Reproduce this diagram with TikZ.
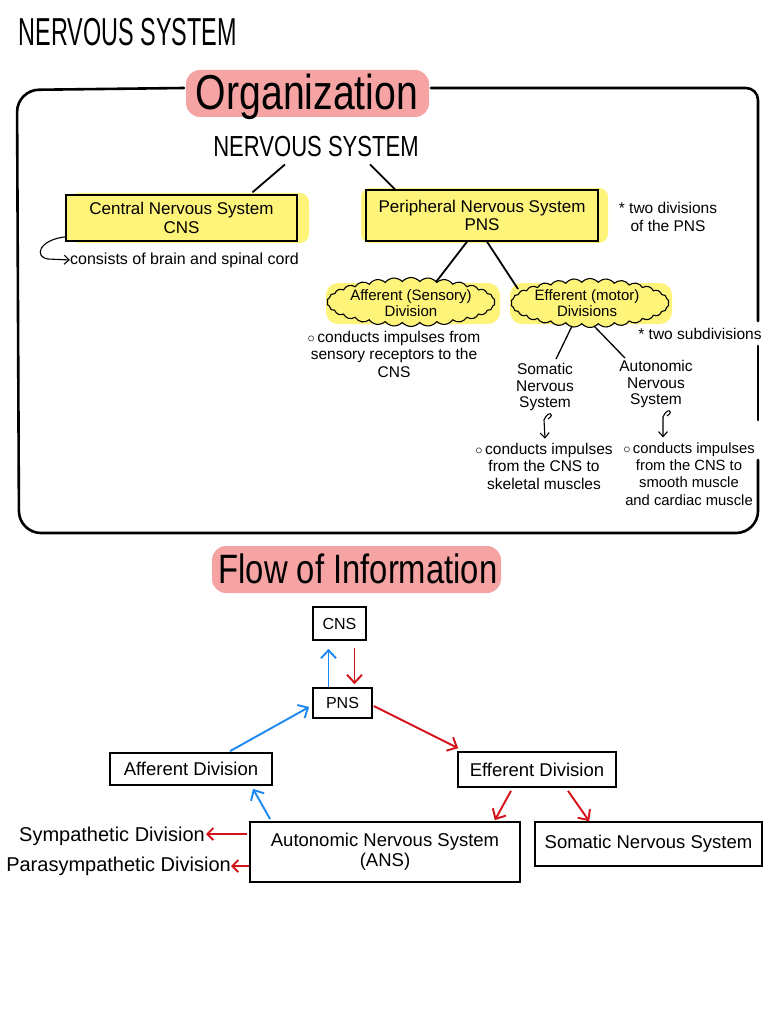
\documentclass[tikz,border=0pt]{standalone}
\usepackage{fontspec}
\usepackage{graphicx}
\setmainfont{Liberation Sans}
\usetikzlibrary{shapes.symbols,arrows.meta,calc}
\definecolor{hly}{HTML}{FFF47A}
\definecolor{hlp}{HTML}{F5A3A3}
\definecolor{flowblue}{HTML}{1C88F2}
\definecolor{flowred}{HTML}{D31119}
\newcommand{\hs}[2][0.8]{\scalebox{#1}[1]{#2}}
\begin{document}
\begin{tikzpicture}[x=1pt,y=-1pt,
  txt/.style={inner sep=0pt, align=center},
  small/.style={txt, font=\fontsize{15.5}{17.5}\selectfont},
  ybox/.style={draw, line width=1.4pt, fill=hly, inner sep=0pt, align=center, font=\fontsize{17}{18.5}\selectfont},
  ycloud/.style={cloud, draw, line width=1.1pt, fill=hly, cloud puffs=30, cloud puff arc=100, cloud ignores aspect, inner sep=0pt},
  cloudtxt/.style={txt, font=\fontsize{15}{16.5}\selectfont},
  wbox/.style={draw, line width=1.7pt, inner sep=0pt, align=center, font=\fontsize{18.5}{20}\selectfont},
  conn/.style={line width=1.8pt},
  frame/.style={line width=2.6pt, line cap=round},
  barb/.style={-{Straight Barb[length=8pt,width=15pt]}, line width=1.9pt},
  smallbarb/.style={-{Straight Barb[length=5pt,width=9pt]}, line width=1.1pt},
  bluearr/.style={barb, draw=flowblue},
  redarr/.style={barb, draw=flowred}
]
\useasboundingbox (0,0) rectangle (768,1024);
\fill[white] (0,0) rectangle (768,1024);

% ---------- titles ----------
\node[txt, font=\fontsize{39}{40}\selectfont] (title) at (128,32) {\hs[0.6]{NERVOUS SYSTEM}};

\fill[hlp, rounded corners=14pt] (186,70) rectangle (429,117);
\node[txt, font=\fontsize{49}{50}\selectfont] (org) at (307,97) {\hs[0.8]{Organization}};

% ---------- frame ----------
\draw[frame, rounded corners=22pt] (184,88) -- (17,90) -- (19,533) -- (758,533) -- (758,460);
\draw[frame] (758,420) -- (758,346);
\draw[frame, rounded corners=12pt] (758,321) -- (758,88) -- (431,88);

% ---------- organization tree ----------
\node[txt, font=\fontsize{29}{30}\selectfont] (ns) at (316,147) {\hs[0.76]{NERVOUS SYSTEM}};

\fill[hly, rounded corners=9pt] (70,193) rectangle (309,243);
\node[ybox, minimum width=231pt, minimum height=46pt] (cns) at (181.5,218) {Central Nervous System\\CNS};

\fill[hly, rounded corners=9pt] (361,188) rectangle (608,243);
\node[ybox, minimum width=232pt, minimum height=51pt] (pns) at (482,215.5) {Peripheral Nervous System\\PNS};

\node[small] (twodiv) at (668,217) {* two divisions\\of the PNS};

\node[txt, anchor=west, font=\fontsize{16}{18}\selectfont] (consists) at (70,260) {consists of brain and spinal cord};

\fill[hly, rounded corners=12pt] (326,283) rectangle (500,324);
\node[ycloud, minimum width=168pt, minimum height=49pt] (aff) at (411,302) {};
\node[cloudtxt] (afftxt) at (411,303) {Afferent (Sensory)\\Division};
\fill[hly, rounded corners=12pt] (510,283) rectangle (672,324);
\node[ycloud, minimum width=158pt, minimum height=49pt] (eff) at (590,303) {};
\node[cloudtxt] (efftxt) at (587,303) {Efferent (motor)\\Divisions};

\node[small] (affdesc) at (394,354) {$\circ$\,conducts impulses from\\sensory receptors to the\\CNS};
\node[small] (twosub) at (700,334) {* two subdivisions};

\node[small, font=\fontsize{15.5}{16.5}\selectfont] (som) at (545,387) {Somatic\\Nervous\\System};
\node[small, font=\fontsize{15.5}{16.5}\selectfont] (aut) at (656,384) {Autonomic\\Nervous\\System};

\node[small] (somdesc) at (544,466) {$\circ$\,conducts impulses\\from the CNS to\\skeletal muscles};
\node[small, font=\fontsize{14.8}{17.3}\selectfont] (autdesc) at (689,474) {$\circ$\,conducts impulses\\from the CNS to\\smooth muscle\\and cardiac muscle};

% connectors (organization)
\draw[conn] ($(ns.south)+(-31,7)$) -- ($(cns.north)+(71,-2)$);
\draw[conn] ($(ns.south)+(54,7)$) -- ($(pns.north)+(-87,0)$);
\draw[conn] ($(pns.south)+(-15,0)$) -- ($(aff.center)+(25,-20)$);
\draw[conn] ($(pns.south)+(5,0)$) -- ($(eff.center)+(-72,-14)$);
\draw[conn, line width=1.3pt] ($(eff.center)+(-18,23)$) -- ($(som.north)+(11,-4)$);
\draw[conn, line width=1.3pt] ($(eff.center)+(4,23)$) -- ($(aut.north)+(-31,-2)$);

\draw[smallbarb] ($(cns.south west)+(1,-5)$) .. controls +(-28,3) and +(-14,-2) .. ($(consists.west)+(-22,-1)$) -- (consists.west);
\draw[smallbarb] ($(som.south)+(3,8)$) .. controls +(8,-5) and +(4,-10) .. ($(som.south)+(-1,9)$) -- ($(somdesc.north)+(1,-4)$);
\draw[smallbarb] ($(aut.south)+(11,8)$) .. controls +(8,-5) and +(4,-10) .. ($(aut.south)+(7,9)$) -- ($(autdesc.north)+(-26,-5)$);

% ---------- flow of information ----------
\fill[hlp, rounded corners=14pt] (212,546) rectangle (501,593);
\node[txt, font=\fontsize{41}{42}\selectfont] (flow) at (358,569) {\hs[0.8]{Flow of Information}};

\node[wbox, font=\fontsize{16}{18}\selectfont, minimum width=53pt, minimum height=33pt] (fcns) at (339.5,623.5) {CNS};
\node[wbox, font=\fontsize{16}{18}\selectfont, minimum width=59pt, minimum height=30pt] (fpns) at (342.5,703) {PNS};
\node[wbox, minimum width=162pt, minimum height=32pt] (faff) at (191,769) {Afferent Division};
\node[wbox, minimum width=158pt, minimum height=35pt] (feff) at (537,769.5) {Efferent Division};
\node[wbox, minimum width=270pt, minimum height=60pt] (fans) at (385,852) {Autonomic Nervous System\\(ANS)};
\node[wbox, minimum width=227pt, minimum height=44pt] (fsom) at (648.5,844) {Somatic Nervous System};

\node[txt, anchor=east, font=\fontsize{20}{22}\selectfont] (symp) at (205,836) {Sympathetic Division};
\node[txt, anchor=east, font=\fontsize{20}{22}\selectfont] (para) at (231,866) {Parasympathetic Division};

\draw[bluearr] ($(fpns.north)+(-14,0)$) -- ($(fcns.south)+(-11,8)$);
\draw[redarr] ($(fcns.south)+(15,7)$) -- ($(fpns.north)+(12,-3)$);
\draw[bluearr] ($(faff.north)+(39,-1)$) -- ($(fpns.west)+(-3,4)$);
\draw[redarr] ($(fpns.east)+(1,3)$) -- ($(feff.north west)+(1,-3)$);
\draw[bluearr] ($(fans.north west)+(21,-2)$) -- ($(faff.south)+(62,3)$);
\draw[redarr] ($(feff.south)+(-26,3)$) -- ($(fans.north east)+(-26,-1)$);
\draw[redarr] ($(feff.south)+(31,3)$) -- ($(fsom.north west)+(55,0)$);
\draw[redarr, -{Straight Barb[length=6pt,width=12pt]}] ($(fans.west)+(-2,-18)$) -- ($(symp.east)+(1,-2)$);
\draw[redarr, -{Straight Barb[length=6pt,width=12pt]}] ($(fans.west)+(0,14)$) -- (para.east);
\end{tikzpicture}
\end{document}
